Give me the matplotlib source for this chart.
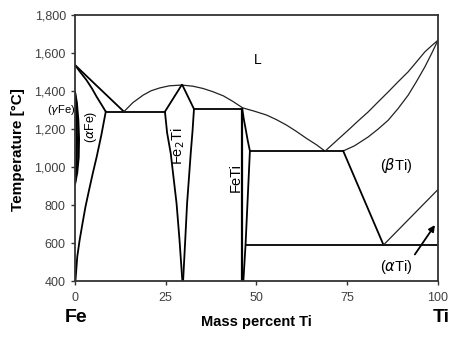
import matplotlib
matplotlib.use("Agg")
import matplotlib.pyplot as plt

plt.rcParams['font.family'] = ['Liberation Sans', 'DejaVu Sans']
plt.rcParams['mathtext.fontset'] = 'dejavusans'

# phase boundaries: (mass % Ti, temperature in C)
fe_liquidus_x = [0, 13.5]
fe_liquidus_t = [1538, 1292]
fe_solidus_x = [0, 1.6, 3.2, 4.7, 6.0, 7.3, 8.5]
fe_solidus_t = [1538, 1497, 1458, 1414, 1370, 1330, 1292]
afe_solvus_x = [8.5, 7.3, 6.0, 4.9, 3.9, 2.9, 2.1, 1.3, 0.65, 0.15]
afe_solvus_t = [1292, 1170, 1054, 965, 879, 790, 704, 615, 528, 400]
gamma_outer_x = [0, 0.5, 0.9, 1.1, 1.0, 0.6, 0]
gamma_outer_t = [1394, 1340, 1250, 1150, 1050, 970, 912]
gamma_inner_x = [0, 0.25, 0.45, 0.55, 0.5, 0.3, 0]
gamma_inner_t = [1394, 1340, 1250, 1150, 1050, 970, 912]
eut1_x = [8.5, 24.8]
eut1_t = [1292, 1292]
dome_x = [13.5, 16.0, 18.8, 21.0, 23.4, 26.0, 29.4, 32.5, 35.3, 38.0, 40.9,
          43.5, 46.2, 49.5, 52.8, 55.5, 58.3, 61.0, 63.8, 66.5, 68.9]
dome_t = [1292, 1340, 1379, 1402, 1417, 1428, 1432, 1426, 1414, 1397, 1375,
          1346, 1312, 1294, 1274, 1250, 1221, 1188, 1151, 1118, 1084]
fe2ti_left_x = [29.4, 24.8, 25.4, 26.4, 27.2, 28.0, 28.8, 29.6]
fe2ti_left_t = [1432, 1292, 1180, 1072, 940, 809, 620, 400]
fe2ti_right_x = [29.6, 32.8, 32.4, 31.9, 31.4, 30.9, 30.4, 29.8]
fe2ti_right_t = [1432, 1306, 1190, 1072, 940, 809, 620, 400]
eut2_x = [32.8, 46.1]
eut2_t = [1306, 1306]
feti_left_x = [46.1, 46.1]
feti_left_t = [1306, 400]
feti_right_x = [46.1, 46.5, 47.0, 47.6, 48.2, 47.0, 46.4]
feti_right_t = [1306, 1255, 1204, 1140, 1085, 590, 400]
eut3_x = [48.2, 73.9]
eut3_t = [1085, 1085]
ti_liquidus_x = [68.9, 72.0, 75.3, 78.0, 80.8, 83.5, 86.3, 89.0, 91.8, 94.0, 96.4, 98.3, 100]
ti_liquidus_t = [1084, 1138, 1195, 1243, 1291, 1343, 1396, 1449, 1502, 1552, 1607, 1640, 1668]
ti_solidus_x = [73.9, 77.0, 80.8, 83.5, 86.3, 89.0, 91.8, 94.0, 96.4, 98.3, 100]
ti_solidus_t = [1085, 1112, 1159, 1200, 1247, 1308, 1379, 1448, 1528, 1600, 1668]
beta_transus_x = [73.9, 85]
beta_transus_t = [1085, 590]
eutectoid_x = [47.0, 100]
eutectoid_t = [590, 590]
alpha_transus_x = [85, 100]
alpha_transus_t = [590, 882]

y_ticks = [400, 600, 800, 1000, 1200, 1400, 1600, 1800]
x_ticks = [0, 25, 50, 75, 100]

fig = plt.figure(figsize=(4.74, 3.37), dpi=100)
ax = fig.add_axes([0.158, 0.166, 0.766, 0.789])

thin = dict(color='#222222', lw=0.9)
thick = dict(color='black', lw=1.3)

ax.plot(fe_liquidus_x, fe_liquidus_t, **thick)
ax.plot(fe_solidus_x, fe_solidus_t, **thick)
ax.plot(afe_solvus_x, afe_solvus_t, **thick)
ax.plot(gamma_outer_x, gamma_outer_t, color='black', lw=1.6)
ax.plot(gamma_inner_x, gamma_inner_t, color='black', lw=1.6)
ax.plot(eut1_x, eut1_t, **thick)
ax.plot(dome_x, dome_t, **thin)
ax.plot(fe2ti_left_x, fe2ti_left_t, **thick)
ax.plot(fe2ti_right_x, fe2ti_right_t, **thick)
ax.plot(eut2_x, eut2_t, **thick)
ax.plot(feti_left_x, feti_left_t, color='black', lw=1.6)
ax.plot(feti_right_x, feti_right_t, **thick)
ax.plot(eut3_x, eut3_t, **thick)
ax.plot(ti_liquidus_x, ti_liquidus_t, **thin)
ax.plot(ti_solidus_x, ti_solidus_t, **thin)
ax.plot(beta_transus_x, beta_transus_t, **thick)
ax.plot(eutectoid_x, eutectoid_t, **thick)
ax.plot(alpha_transus_x, alpha_transus_t, **thin)

ax.set_xlim(0, 100)
ax.set_ylim(400, 1800)
ax.set_xticks(x_ticks)
ax.set_yticks(y_ticks)
ax.set_yticklabels([f'{t:,}' for t in y_ticks])
ax.tick_params(direction='out', length=3, width=1, labelsize=9, labelcolor='#404040', colors='#333333')
ax.tick_params(axis='x', pad=5)
for s in ax.spines.values():
    s.set_linewidth(1.3)
    s.set_color('#333333')

# phase labels
ax.text(50.4, 1563, 'L', fontsize=10, ha='center', va='center')
ax.text(88.6, 1010, r'($\beta$Ti)', fontsize=10.5, ha='center', va='center')
ax.text(88.6, 475, r'($\alpha$Ti)', fontsize=10.5, ha='center', va='center')
ax.text(4.3, 1212, r'($\alpha$Fe)', fontsize=9, ha='center', va='center', rotation=90)
ax.text(-3.9, 1300, r'($\gamma$Fe)', fontsize=8, ha='center', va='center', clip_on=False)
ax.text(28.4, 1110, r'Fe$_2$Ti', fontsize=10.5, ha='center', va='center', rotation=90)
ax.text(44.4, 947, 'FeTi', fontsize=10.5, ha='center', va='center', rotation=90)
ax.annotate('', xy=(99.6, 707), xytext=(93.2, 528),
            arrowprops=dict(arrowstyle='-|>', color='black', lw=1.3, mutation_scale=9))

fig.text(0.038, 0.555, 'Temperature [\u00b0C]', rotation=90, fontsize=11,
         fontweight='bold', ha='center', va='center')
fig.text(0.541, 0.045, 'Mass percent Ti', fontsize=10.5, fontweight='bold',
         ha='center', va='center')
fig.text(0.160, 0.059, 'Fe', fontsize=14, fontweight='bold', ha='center', va='center')
fig.text(0.930, 0.059, 'Ti', fontsize=14, fontweight='bold', ha='center', va='center')

fig.savefig('out.png', dpi=100)
